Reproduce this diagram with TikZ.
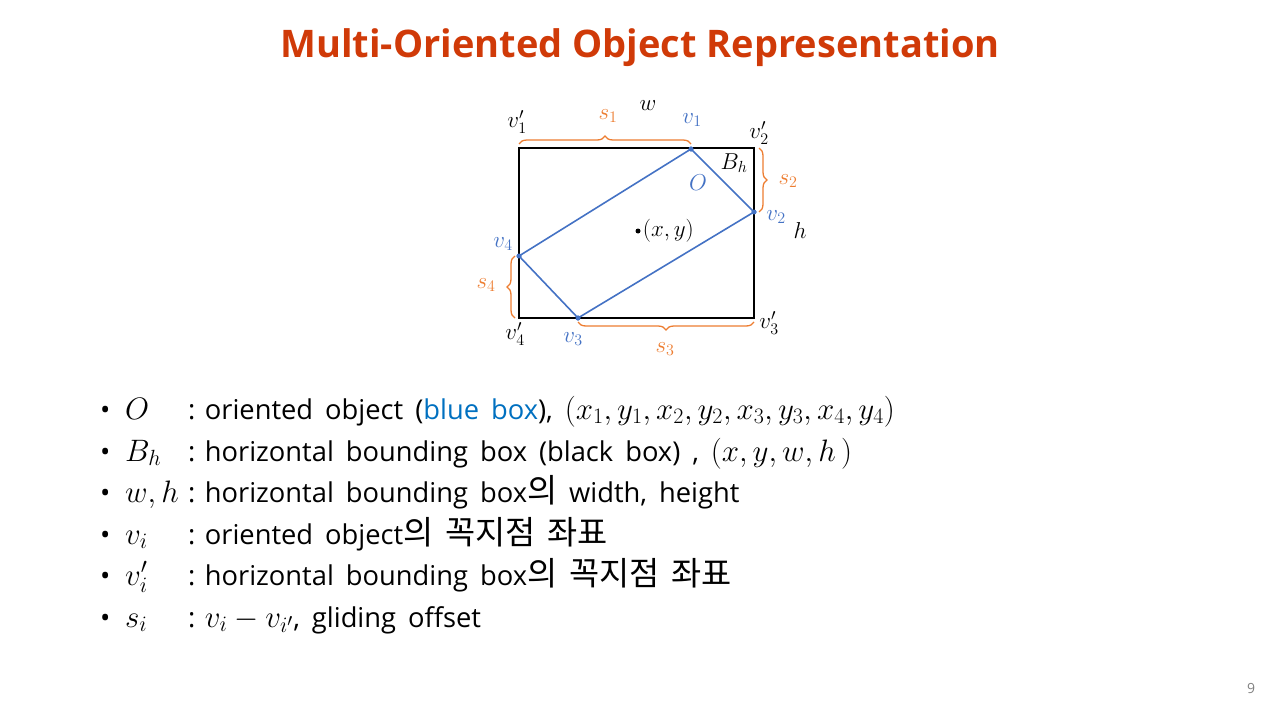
\documentclass[tikz,border=0pt]{standalone}
\usepackage{fix-cm}
\usepackage{fontspec}
\setmainfont{Open Sans}
\newfontfamily\krfont[Scale=1.2]{Noto Sans CJK KR}
\DeclareMathSizes{27.3}{31}{22}{18}
\newcommand\widesp{\spaceskip=12pt plus 2pt\relax}
\usetikzlibrary{positioning,decorations.pathreplacing}
\definecolor{titlered}{RGB}{208,58,8}
\definecolor{sorange}{RGB}{237,125,49}
\definecolor{vblue}{RGB}{68,114,196}
\definecolor{boxblue}{RGB}{0,112,192}
\begin{document}
\begin{tikzpicture}
[x=1pt,y=-1pt,
 hbox/.style={draw=black,line width=2.6pt},
 obox/.style={draw=vblue,line width=1.6pt},
 vdot/.style={circle,fill=vblue,inner sep=0pt,minimum size=5pt},
 sbrace/.style={draw=sorange,line width=1.3pt,decorate,decoration={brace,amplitude=8pt}},
 lab/.style={font=\fontsize{23}{27}\selectfont,inner sep=0pt},
 slab/.style={lab,text=sorange},
 vlab/.style={lab,text=vblue},
 bul/.style={font=\fontsize{27.3}{32}\selectfont,anchor=base west,inner sep=0pt}]
\useasboundingbox (0,0) rectangle (1280,720);
\node[font=\fontsize{38}{44}\bfseries\selectfont,text=titlered] (title) at (640,48) {Multi-Oriented Object Representation};
\coordinate (c1) at (519,148); \coordinate (c2) at (754,148);
\coordinate (c3) at (754,318); \coordinate (c4) at (519,318);
\node[vdot] (v1) at (691,149) {}; \node[vdot] (v2) at (754,212) {};
\node[vdot] (v3) at (578,318) {}; \node[vdot] (v4) at (519,256) {};
\draw[hbox] (c1) rectangle (c3);
\draw[obox] (v1.center) -- (v2.center) -- (v3.center) -- (v4.center) -- cycle;
\foreach \v in {v1,v2,v3,v4} \node[vdot] at (\v) {};
\node[circle,fill=black,inner sep=0pt,minimum size=5pt] (ctr) at (638,231) {};
\node[lab,right=2pt of ctr] {$(x,y)$};
\coordinate (s1a) at (519,144); \coordinate (s1b) at (691,144);
\coordinate (s2a) at (759,148); \coordinate (s2b) at (759,212);
\coordinate (s3a) at (754,322); \coordinate (s3b) at (578,322);
\coordinate (s4a) at (515,318); \coordinate (s4b) at (515,256);
\draw[sbrace] (s1a) -- (s1b); \draw[sbrace] (s2a) -- (s2b);
\draw[sbrace] (s3a) -- (s3b); \draw[sbrace] (s4a) -- (s4b);
\node[slab] (s1) at (608,116) {$s_1$};
\node[slab] (s2) at (788,181) {$s_2$};
\node[slab] (s3) at (665,349) {$s_3$};
\node[slab] (s4) at (486,285) {$s_4$};
\node[lab] (w) at (648,106) {$w$};
\node[lab] (h) at (800,231) {$h$};
\node[lab] (bh) at (734,163) {$B_h$};
\node[vlab] (o) at (698,183) {$O$};
\node[vlab] (lv1) at (692,120) {$v_1$};
\node[vlab] (lv2) at (776,217) {$v_2$};
\node[vlab] (lv3) at (573,339) {$v_3$};
\node[vlab] (lv4) at (503,244) {$v_4$};
\node[lab] (lc1) at (517,122) {$v_1'$};
\node[lab] (lc2) at (759,133) {$v_2'$};
\node[lab] (lc3) at (769,323) {$v_3'$};
\node[lab] (lc4) at (515,334) {$v_4'$};
\foreach \y/\m/\t [count=\i] in {
 419/O/{oriented object ({\color{boxblue}blue box}), $(x_1,y_1,x_2,y_2,x_3,y_3,x_4,y_4)$},
 461/B_h/{horizontal bounding box (black box) , $(x,y,w,h\,)$},
 502/{w,h}/{horizontal bounding box{\krfont 의} width, height},
 544/v_i/{oriented object{\krfont 의 꼭지점 좌표}},
 585/v_i'/{horizontal bounding box{\krfont 의 꼭지점 좌표}},
 627/s_i/{$v_i-v_{i'}$, gliding offset}}
 {\node[bul] (b\i) at (100,\y) {\textbullet};
  \node[bul] (m\i) at (125,\y) {$\m$};
  \node[bul] (t\i) at (188,\y) {: \widesp\t};}
\node[font=\fontsize{14}{16}\selectfont,text=gray] (pg) at (1251,688) {9};
\end{tikzpicture}
\end{document}
